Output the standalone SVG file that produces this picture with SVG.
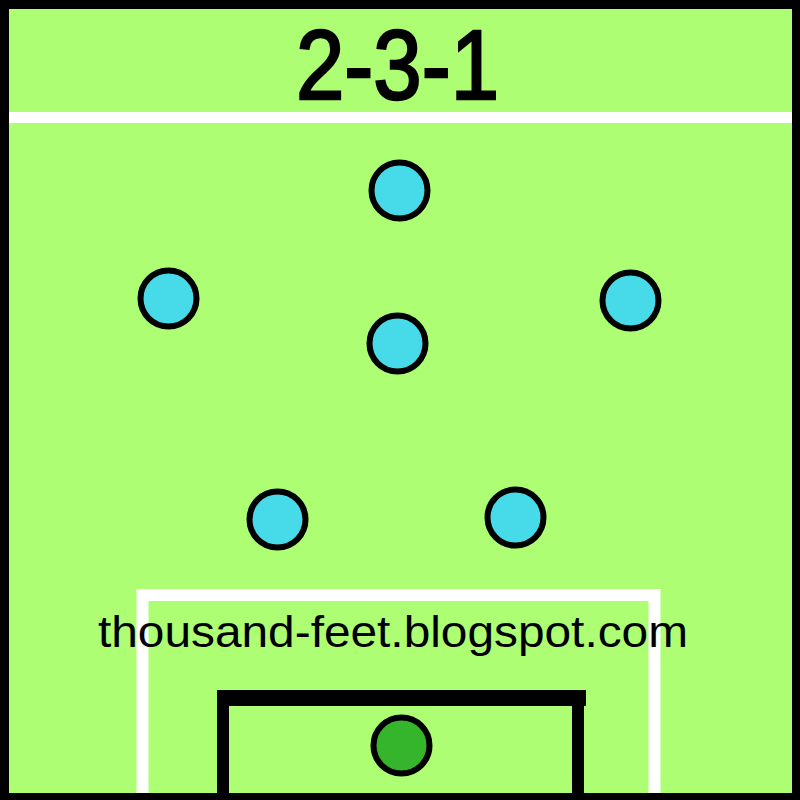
<svg xmlns="http://www.w3.org/2000/svg" width="800" height="800" viewBox="0 0 800 800">
<style>
.player{fill:#47dae9;stroke:#000;stroke-width:6}
.keeper{fill:#35b52b;stroke:#000;stroke-width:6}
.txt{font-family:"Liberation Sans","DejaVu Sans",sans-serif;fill:#000}
</style>
<g id="pitch">
<rect x="0" y="0" width="800" height="800" fill="#000"/>
<rect x="9" y="9" width="783" height="784" fill="#adfe73"/>
<rect x="9" y="112" width="783" height="11" fill="#fff"/>
<path d="M142.5 800 V595 H654.5 V800" fill="none" stroke="#fff" stroke-width="12"/>
<rect x="217" y="690" width="369" height="16" fill="#000"/>
<rect x="217" y="690" width="12" height="110" fill="#000"/>
<rect x="572" y="690" width="12" height="110" fill="#000"/>
<rect x="0" y="793" width="800" height="7" fill="#000"/>
</g>
<g id="title"><text class="txt" x="296" y="99" font-size="98" stroke="#000" stroke-width="2.5" textLength="203" lengthAdjust="spacingAndGlyphs">2-3-1</text></g>
<g id="p1"><circle class="player" cx="399.5" cy="190.5" r="28"/></g>
<g id="p2"><circle class="player" cx="168.5" cy="298.5" r="28"/></g>
<g id="p3"><circle class="player" cx="630.5" cy="300.5" r="28"/></g>
<g id="p4"><circle class="player" cx="397.5" cy="343.5" r="28"/></g>
<g id="p5"><circle class="player" cx="277.5" cy="519.5" r="28"/></g>
<g id="p6"><circle class="player" cx="515.5" cy="517.5" r="28"/></g>
<g id="gk"><circle class="keeper" cx="401.5" cy="745.5" r="28"/></g>
<g id="credit"><text class="txt" x="98" y="647" font-size="44" textLength="590" lengthAdjust="spacingAndGlyphs">thousand-feet.blogspot.com</text></g>
<g id="connectors"/>
</svg>
